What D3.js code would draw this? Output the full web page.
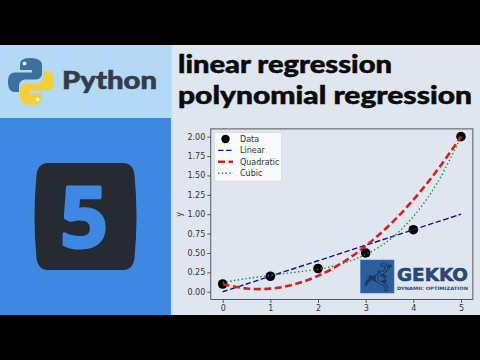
<!DOCTYPE html>
<html><head><meta charset="utf-8">
<script src="https://cdn.jsdelivr.net/npm/d3@7"></script>
<style>html,body{margin:0;padding:0;background:#000;}svg{display:block;}</style>
</head><body>
<svg id="c" width="480" height="360"></svg>
<script>
// ---- data ----
const xData = [0, 1, 2, 3, 4, 5];
const yData = [0.1, 0.2, 0.3, 0.5, 0.8, 2.0];
const xFit = [0, 0.5, 1, 1.5, 2, 2.5, 3, 3.5, 4, 4.5, 5];
const yLinear = [0, 0.1, 0.2, 0.3, 0.4, 0.5, 0.6, 0.7, 0.8, 0.9, 1.0];
const yQuadratic = [0.1, 0.042, 0.04, 0.095, 0.205, 0.37, 0.59, 0.86, 1.185, 1.566, 2.0];
const yCubic = [0.12, 0.17, 0.21, 0.25, 0.29, 0.36, 0.48, 0.67, 0.97, 1.40, 2.0];
const xTicks = [0, 1, 2, 3, 4, 5];
const yTicks = [0, 0.25, 0.5, 0.75, 1.0, 1.25, 1.5, 1.75, 2.0];
const legendLabels = ["Data", "Linear", "Quadratic", "Cubic"];
const titleLines = ["linear regression", "polynomial regression"];

const svg = d3.select("#c");

// ---- background panels ----
svg.append("rect").attr("x",0).attr("y",0).attr("width",480).attr("height",360).attr("fill","#000");
svg.append("rect").attr("x",0).attr("y",45).attr("width",172).attr("height",74).attr("fill","#b4d9f7");
svg.append("rect").attr("x",0).attr("y",118).attr("width",172).attr("height",197).attr("fill","#3f88e2");
svg.append("rect").attr("x",171).attr("y",45).attr("width",3).attr("height",270).attr("fill","#cfe0f2");
svg.append("rect").attr("x",173).attr("y",45).attr("width",307).attr("height",270).attr("fill","#dfe6ef");

// ---- python logo ----
const logo = svg.append("g").attr("transform","translate(8,58)");
const bluePath = "M22,0 C14,0 12,3 12,7 L12,12 L24,12 L24,14.5 L7,14.5 C2,14.5 0,18 0,24 C0,30 2,34 7,34 L11,34 L11,28 C11,24 14,21.5 18,21.5 L28,21.5 C32,21.5 34,18.5 34,15 L34,7 C34,3 30,0 22,0 Z";
logo.append("path").attr("d",bluePath).attr("fill","#3d6f9f");
logo.append("path").attr("d",bluePath).attr("fill","#f4cf3c").attr("transform","rotate(180,23,23.5)");
logo.append("circle").attr("cx",16.5).attr("cy",5.5).attr("r",2).attr("fill","#dfe9f3");
logo.append("circle").attr("cx",29.5).attr("cy",41.5).attr("r",2).attr("fill","#fff6d6");
svg.append("text").attr("x",62).attr("y",89).text("Python")
  .attr("font-family","Lato, 'Open Sans', sans-serif").attr("font-weight",900)
  .attr("font-size",25).attr("fill","#333d48").attr("stroke","#333d48").attr("stroke-width",0.6)
  .attr("textLength",95).attr("lengthAdjust","spacingAndGlyphs");

// ---- number tile ----
svg.append("path")
  .attr("d","M48,163 L123,163 Q133,163 134.5,175 Q138.5,216.5 134.5,258 Q133,270 123,270 L48,270 Q38,270 36.5,258 Q32.5,216.5 36.5,175 Q38,163 48,163 Z")
  .attr("fill","#252a33");
svg.append("text").attr("x",84).attr("y",247).attr("text-anchor","middle").text("5")
  .attr("font-family","'Noto Sans', 'Open Sans', sans-serif").attr("font-weight",700).attr("font-style","normal")
  .attr("font-size",84).attr("fill","#3f88e2")
  .attr("stroke","#3f88e2").attr("stroke-width",3).attr("stroke-linejoin","round");

// ---- title ----
svg.selectAll("text.title").data(titleLines).enter().append("text").attr("class","title")
  .attr("x",178).attr("y",(d,i)=>73+i*30.5).text(d=>d)
  .attr("font-family","Lato, 'Open Sans', sans-serif").attr("font-weight",900)
  .attr("font-size",25).attr("fill","#0b0b0b").attr("stroke","#0b0b0b").attr("stroke-width",0.5)
  .attr("textLength",(d,i)=>i===0?214:294).attr("lengthAdjust","spacingAndGlyphs");

// ---- chart ----
const x = d3.scaleLinear().domain([-0.25,5.25]).range([210.8,472.9]);
const y = d3.scaleLinear().domain([-0.1,2.1]).range([299.5,128.9]);
const fontF = "'DejaVu Sans', sans-serif";

const ax = svg.append("g").attr("transform","translate(0,299.5)")
  .call(d3.axisBottom(x).tickValues(xTicks).tickFormat(d3.format("d")).tickSize(3.5).tickPadding(2));
const ay = svg.append("g").attr("transform","translate(210.8,0)")
  .call(d3.axisLeft(y).tickValues(yTicks).tickFormat(d3.format(".2f")).tickSize(3.5).tickPadding(2));
[ax,ay].forEach(g=>{
  g.select(".domain").remove();
  g.selectAll("line").attr("stroke","#333").attr("stroke-width",0.8);
  g.selectAll("text").attr("font-family",fontF).attr("font-size",8).attr("fill","#333");
});
svg.append("rect").attr("x",210.8).attr("y",128.9).attr("width",472.9-210.8).attr("height",299.5-128.9)
  .attr("fill","none").attr("stroke","#333").attr("stroke-width",0.8);
svg.append("text").attr("transform","translate(182,214.5) rotate(-90)").attr("text-anchor","middle")
  .text("y").attr("font-family",fontF).attr("font-size",8).attr("fill","#333");

// ---- GEKKO logo ----
const gk = svg.append("g");
gk.append("rect").attr("x",360.5).attr("y",260).attr("width",33.5).attr("height",33).attr("fill","#2c5e9d").attr("stroke","#4a7bb8").attr("stroke-width",0.6);
gk.append("path")
  .attr("d","M382,265 C386,264 388,267 386,270 C384,273 379,273 377,276 C375,279 377,282 381,283 C385,284 388,287 386,290 M377,276 C372,277 368,280 366,284 M379,272 L385,277 M377,281 L370,277 M381,283 L385,281 M386,268 L390,266")
  .attr("fill","none").attr("stroke","#173a66").attr("stroke-width",3.2).attr("stroke-linecap","round");
gk.append("path")
  .attr("d","M382,265 C386,264 388,267 386,270 C384,273 379,273 377,276 C375,279 377,282 381,283 C385,284 388,287 386,290")
  .attr("fill","none").attr("stroke","#6f9bd0").attr("stroke-width",0.6);
gk.append("text").attr("x",397).attr("y",281).text("GEKKO")
  .attr("font-family",fontF).attr("font-weight",700).attr("font-size",18)
  .attr("fill","#28497a").attr("stroke","#1c3660").attr("stroke-width",0.5)
  .attr("textLength",71).attr("lengthAdjust","spacingAndGlyphs");
gk.append("text").attr("x",397).attr("y",289.6).text("DYNAMIC OPTIMIZATION")
  .attr("font-family",fontF).attr("font-weight",700).attr("font-size",4.5)
  .attr("fill","#28497a").attr("textLength",71).attr("lengthAdjust","spacingAndGlyphs");

// ---- marks ----
svg.append("g").selectAll("circle").data(xData).enter().append("circle")
  .attr("cx",d=>x(d)).attr("cy",(d,i)=>y(yData[i])).attr("r",4.8).attr("fill","#000");

const line = ys => d3.line().curve(d3.curveCatmullRom).x((d,i)=>x(xFit[i])).y((d,i)=>y(ys[i]))(ys);
const series = [
  {ys:yLinear, color:"#1010a8", w:1.4, dash:"5.5,2.5"},
  {ys:yQuadratic, color:"#d81f1f", w:2.6, dash:"7,3.5"},
  {ys:yCubic, color:"#1f8f2a", w:1.4, dash:"1.4,2.4"}
];
series.forEach(s=>{
  svg.append("path").attr("d",line(s.ys)).attr("fill","none").attr("stroke",s.color)
    .attr("stroke-width",s.w).attr("stroke-dasharray",s.dash);
});

// ---- legend ----
const lg = svg.append("g");
lg.append("rect").attr("x",214.5).attr("y",132.5).attr("width",67).attr("height",48.5).attr("rx",2)
  .attr("fill","#fbfcfd").attr("fill-opacity",0.9).attr("stroke","#d2d2d2").attr("stroke-width",0.6);
legendLabels.forEach((lab,i)=>{
  const yy = 139 + i*11.4;
  if(i===0){
    lg.append("circle").attr("cx",225.5).attr("cy",yy).attr("r",4.2).attr("fill","#000");
  } else {
    const s = series[i-1];
    lg.append("line").attr("x1",218).attr("x2",233).attr("y1",yy).attr("y2",yy)
      .attr("stroke",s.color).attr("stroke-width",s.w).attr("stroke-dasharray",s.dash);
  }
  lg.append("text").attr("x",240).attr("y",yy+3).text(lab)
    .attr("font-family",fontF).attr("font-size",8).attr("fill","#333");
});
</script>
</body></html>
